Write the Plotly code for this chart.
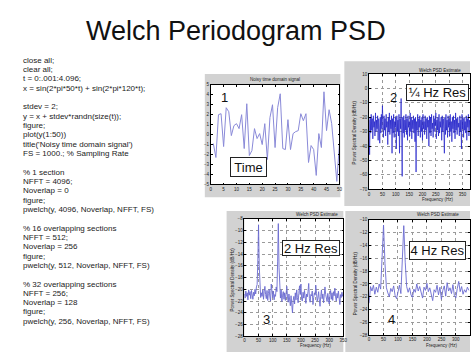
import plotly.graph_objects as go

W, H = 474, 355
FONT = "Liberation Sans, Arial, sans-serif"

title_text = "Welch Periodogram PSD"
code_lines = [
    "close all;", "clear all;", "t = 0:.001:4.096;",
    "x = sin(2*pi*50*t) + sin(2*pi*120*t);", "",
    "stdev = 2;", "y = x + stdev*randn(size(t));", "figure;", "plot(y(1:50))",
    "title('Noisy time domain signal')", "FS = 1000.; % Sampling Rate", "",
    "% 1 section", "NFFT = 4096;", "Noverlap = 0", "figure;",
    "pwelch(y, 4096, Noverlap, NFFT, FS)", "",
    "% 16 overlapping sections", "NFFT = 512;", "Noverlap = 256", "figure;",
    "pwelch(y, 512, Noverlap, NFFT, FS)", "",
    "% 32 overlapping sections", "NFFT = 256;", "Noverlap = 128", "figure;",
    "pwelch(y, 256, Noverlap, NFFT, FS)",
]

# Panel 1: noisy time-domain signal, samples 1..50
time_vals = [-0.9, -2.3, 2.0, 2.1, -1.2, 2.7, 2.3, -0.1, 0.9, 1.1,
             0.6, 2.0, -1.4, 3.1, -2.1, -1.6, 0.6, -0.4, 0.1, -1.0,
             1.1, -2.5, 1.7, 3.0, -1.3, 2.7, 4.1, -1.4, -1.5, 1.5,
             -1.5, 0.1, 0.3, 0.4, 2.1, 1.4, 2.1, -2.8, -1.1, -1.5,
             -4.1, 0.1, -1.3, 4.3, 0.4, 2.5, 1.1, -2.2, -4.7, -1.0]
time_idx = list(range(1, len(time_vals) + 1))

# Panel 2: 1/4 Hz resolution PSD (dB/Hz), sampled every 2 Hz
psd_quarter = [
    -22, -46, -20, -31, -18, -29, -21, -35, -19, -27,
    -23, -33, -17, -30, -22, -28, -19, -36, -21, -26,
    -38, -20, -31, -18, -28, -12, -24, -34, -19, -29,
    -21, -33, -18, -27, -23, -39, -20, -30, -17, -32,
    -22, -28, -19, -45, -21, -31, -18, -34, -23, -27,
    -20, -42, -19, -30, -22, -33, -18, -45, -21, -28,
    -7, -25, -61, -20, -31, -19, -34, -22, -29, -18,
    -32, -21, -36, -19, -27, -23, -33, -17, -30, -20,
    -35, -22, -28, -19, -31, -21, -37, -20, -58, -23,
    -29, -18, -33, -21, -27, -19, -34, -22, -30, -20,
    -36, -18, -28, -23, -32, -19, -29, -21, -35, -20,
    -27, -22, -40, -19, -31, -20, -33, -18, -28, -24,
    -34, -19, -30, -21, -26, -17, -35, -22, -29, -20,
    -33, -18, -31, -23, -27, -20, -36, -19, -30, -21,
    -28, -45, -20, -32, -18, -29, -22, -34, -19, -27,
    -21, -33, -18, -30, -23, -37, -20, -28, -19, -31,
    -22, -35, -17, -29, -21, -32, -20, -27, -24, -33,
    -19, -30, -22, -42, -18, -28, -21, -34, -20, -29,
    -23, -31, -19, -36, -21, -27, -18, -33, -22, -30,
]
freq_quarter = [2 * i for i in range(len(psd_quarter))]

# Panel 3: 2 Hz resolution PSD, sampled every 2.5 Hz
psd_2hz = [
    -20.8, -21.5, -20.3, -21.2, -20.6, -21.8, -20.1, -21.0, -20.4, -21.6,
    -20.2, -20.9, -21.7, -20.5, -21.1, -20.0, -20.8, -19.6, -19.2, -15.0,
    -9.0, -16.0, -20.3, -21.4, -20.6, -21.2, -20.1, -21.7, -20.4, -19.5,
    -20.9, -21.6, -20.2, -21.9, -20.7, -20.0, -21.3, -22.0, -19.1, -20.6,
    -21.4, -20.3, -21.8, -20.9, -21.2, -19.6, -20.4, -15.2, -8.8, -16.3,
    -20.8, -21.5, -20.1, -22.1, -21.0, -20.4, -21.7, -20.6, -21.9, -20.2,
    -19.5, -21.3, -22.2, -20.8, -21.6, -22.8, -21.1, -23.2, -24.0, -21.9,
    -21.2, -22.5, -20.6, -21.8, -20.1, -21.4, -22.3, -20.7, -19.4, -20.9,
    -19.1, -21.7, -22.0, -20.5, -21.5, -20.2, -21.9, -22.4, -20.8, -21.3,
    -20.4, -19.0, -21.6, -22.2, -20.9, -21.1, -20.3, -22.6, -21.4, -20.6,
    -21.0, -19.3, -20.7, -22.0, -21.5, -20.4, -21.8, -22.9, -21.2, -20.1,
    -21.6, -20.8, -22.3, -20.5, -19.6, -20.9, -21.4, -22.1, -20.7, -21.5,
    -22.5, -21.0, -20.2, -21.7, -20.6, -21.9, -20.4, -21.1, -19.8, -21.3,
    -22.0, -20.7, -21.5, -20.3, -21.8, -22.6, -20.9, -21.4, -20.5, -21.2, -20.8,
]
freq_2hz = [2.5 * i for i in range(len(psd_2hz))]

# Panel 4: 4 Hz resolution PSD, sampled every 5 Hz
psd_4hz = [
    -23.0, -20.4, -21.1, -20.2, -21.6, -20.5, -21.3, -20.0, -20.8, -16.5,
    -10.8, -16.8, -20.6, -21.4, -22.0, -20.7, -21.2, -20.3, -21.8, -22.3,
    -21.0, -20.2, -21.5, -16.4, -10.9, -16.6, -20.4, -21.3, -20.6, -21.7,
    -22.1, -20.8, -21.3, -20.0, -21.1, -20.4, -21.6, -22.2, -20.5, -21.0,
    -19.9, -21.2, -20.6, -21.8, -22.6, -20.9, -21.3, -20.2, -21.7, -20.5,
    -22.4, -21.0, -20.3, -21.9, -19.8, -21.1, -20.6, -21.5, -20.1, -21.8,
    -22.2, -20.7, -19.6, -21.2, -20.4, -21.6, -20.9, -21.3, -20.5, -21.0,
]
freq_4hz = [5 * i for i in range(len(psd_4hz))]

freq_ticks = [0, 50, 100, 150, 200, 250, 300, 350]
res_labels = ["¼ Hz Res", "2 Hz Res", "4 Hz Res"]
x_title = "Frequency (Hz)"
y_title = "Power Spectral Density (dB/Hz)"


def px(x):
    return x / W


def py(y):
    return 1 - y / H


fig = go.Figure()
fig.add_trace(go.Scatter(x=time_idx, y=time_vals, mode="lines",
                         line=dict(color="#8a8ad8", width=1), xaxis="x", yaxis="y"))
fig.add_trace(go.Scatter(x=freq_quarter, y=psd_quarter, mode="lines",
                         line=dict(color="#1c1cc8", width=0.7), xaxis="x2", yaxis="y2"))
fig.add_trace(go.Scatter(x=freq_2hz, y=psd_2hz, mode="lines",
                         line=dict(color="#6a6ad0", width=0.9), xaxis="x3", yaxis="y3"))
fig.add_trace(go.Scatter(x=freq_4hz, y=psd_4hz, mode="lines",
                         line=dict(color="#6a6ad0", width=0.9), xaxis="x4", yaxis="y4"))

tickfont = dict(size=4.5, color="#222", family=FONT)


def axis_common(grid):
    return dict(showline=True, linecolor="#000", linewidth=0.6, mirror="ticks",
                ticks="inside", ticklen=2, tickwidth=0.5, tickcolor="#000",
                tickfont=tickfont, showgrid=grid, gridcolor="#9a9a9a",
                gridwidth=0.5, griddash="dot", zeroline=False, fixedrange=True)


layout = dict(
    width=W, height=H, margin=dict(l=0, r=0, t=0, b=0),
    paper_bgcolor="white", plot_bgcolor="white", showlegend=False,
    font=dict(family=FONT),
    xaxis=dict(domain=[px(212), px(342)], range=[0, 50], tickvals=list(range(0, 51, 5)),
               anchor="y", **axis_common(False)),
    yaxis=dict(domain=[py(185), py(84)], range=[-5, 5], tickvals=list(range(-5, 6)),
               anchor="x", **axis_common(False)),
    xaxis2=dict(domain=[px(372), 1.0], range=[0, 378], tickvals=freq_ticks, anchor="y2",
                **axis_common(True)),
    yaxis2=dict(domain=[py(190), py(73)], range=[-70, 10], tickvals=list(range(-70, 11, 10)),
                anchor="x2", **axis_common(True)),
    xaxis3=dict(domain=[px(246), px(346)], range=[0, 350], tickvals=freq_ticks, anchor="y3",
                **axis_common(True)),
    yaxis3=dict(domain=[py(339), py(220)], range=[-28, -8], tickvals=list(range(-28, -7, 2)),
                anchor="x3", **axis_common(True)),
    xaxis4=dict(domain=[px(372), 1.0], range=[0, 349], tickvals=freq_ticks, anchor="y4",
                **axis_common(True)),
    yaxis4=dict(domain=[py(338), py(221)], range=[-28, -10], tickvals=list(range(-28, -9, 2)),
                anchor="x4", **axis_common(True)),
)
fig.update_layout(**layout)

shapes = []
GRAY = "#d2d2d2"
panels = [(206, 73, 343, 198), (347, 60, 474, 207), (228, 212, 346, 355), (348, 212, 474, 355)]
for x0, y0, x1, y1 in panels:
    shapes.append(dict(type="rect", xref="paper", yref="paper", x0=px(x0), x1=px(x1),
                       y0=py(y1), y1=py(y0), fillcolor=GRAY, line=dict(width=0), layer="below"))
plots = [(212, 84, 342, 185), (372, 73, 474, 190), (246, 220, 346, 339), (372, 221, 474, 338)]
for x0, y0, x1, y1 in plots:
    shapes.append(dict(type="rect", xref="paper", yref="paper", x0=px(x0), x1=px(x1),
                       y0=py(y1), y1=py(y0), fillcolor="white", line=dict(width=0), layer="below"))
fig.update_layout(shapes=shapes)

small = dict(size=4.5, color="#222", family=FONT)
ann = []
ann.append(dict(text=title_text, x=px(237), y=py(29), xref="paper", yref="paper",
                showarrow=False, xanchor="center", yanchor="middle",
                font=dict(size=27, color="#111", family=FONT)))
for i, line in enumerate(code_lines):
    if not line:
        continue
    ann.append(dict(text=line, x=px(20), y=py(59 + i * 9.46), xref="paper", yref="paper",
                    showarrow=False, xanchor="left", yanchor="middle",
                    font=dict(size=8, color="#222", family=FONT)))
# subplot titles
for txt, cx, cy in [("Noisy time domain signal", 277, 79), ("Welch PSD Estimate", 444, 69),
                    ("Welch PSD Estimate", 319, 216), ("Welch PSD Estimate", 442, 216)]:
    ann.append(dict(text=txt, x=px(cx), y=py(cy), xref="paper", yref="paper", showarrow=False,
                    xanchor="center", yanchor="middle", font=small))
# axis titles
for cx, cy in [(442, 200), (318, 348), (446, 348)]:
    ann.append(dict(text=x_title, x=px(cx), y=py(cy), xref="paper", yref="paper", showarrow=False,
                    xanchor="center", yanchor="middle", font=small))
for cx, cy in [(357, 132), (233, 282), (359, 285)]:
    ann.append(dict(text=y_title, x=px(cx), y=py(cy), xref="paper", yref="paper", showarrow=False,
                    xanchor="center", yanchor="middle", textangle=-90, font=small))
# panel numbers
for txt, cx, cy in [("1", 226, 97), ("2", 397, 97), ("3", 268, 322), ("4", 395, 322)]:
    ann.append(dict(text=txt, x=px(cx), y=py(cy), xref="paper", yref="paper", showarrow=False,
                    xanchor="center", yanchor="middle", font=dict(size=13, color="#111", family=FONT)))
# boxed labels
for txt, cx, cy, w, h in [("Time", 250.5, 167, 35, 18), (res_labels[0], 441.5, 91.5, 61, 15),
                          (res_labels[1], 313, 250, 56, 14), (res_labels[2], 441.5, 252.5, 55, 17)]:
    ann.append(dict(text=txt, x=px(cx), y=py(cy), xref="paper", yref="paper", showarrow=False,
                    xanchor="center", yanchor="middle", width=w, height=h, borderpad=0,
                    bgcolor="white", bordercolor="#222", borderwidth=1,
                    font=dict(size=13, color="#111", family=FONT)))
fig.update_layout(annotations=ann)

fig.write_html("out.html", config={"displayModeBar": False},
               post_script="document.body.style.margin='0px';")
